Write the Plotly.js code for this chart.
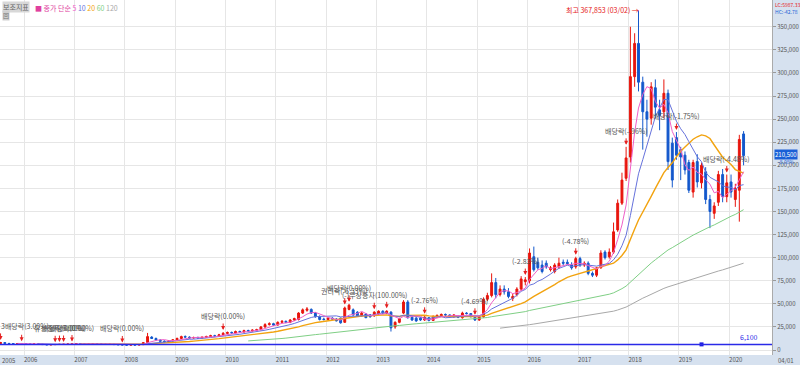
<!DOCTYPE html>
<html><head><meta charset="utf-8">
<script src="https://cdn.plot.ly/plotly-3.0.1.min.js"></script>
<style>body{margin:0;background:#fff}#c{width:800px;height:365px}</style>
</head><body><div id="c"></div>
<script>
// first candle month
const startYear = 2005, startMonth = 7;
const opens = [
 7000,8000,7200,6900,6600,7000,
 6800,6500,6300,6600,6300,5900,5600,5800,6000,6200,6300,6500,
 6800,7000,6600,6200,6500,6900,6600,6300,6000,6200,5900,5700,
 5500,5300,5600,5400,5800,8000,14000,12500,10800,9500,8800,9800,
 11000,12500,14500,14000,13000,13500,13000,13800,14500,15500,15000,16500,
 18000,19000,18500,20000,19500,21000,20500,21500,22000,25000,27500,28500,
 27000,30000,31000,30000,32500,33000,40000,43000,44000,40000,36000,33500,
 33000,34500,33500,34500,30000,44000,43500,41000,37000,39000,38000,37000,
 39000,42000,40000,41000,25000,30000,40000,52000,35500,34500,34500,32500,
 35000,32000,36000,37000,38500,38000,36000,36500,35000,40000,39500,35500,
 32500,36000,55000,59000,73000,60000,66000,63000,56000,60000,66000,74000,
 75000,101000,95000,92000,94000,87000,85000,90000,95000,95000,92000,90000,
 99000,92000,94000,83000,81000,89000,106000,101000,106000,130000,159000,186000,
 209000,296000,332000,290000,258000,251000,284000,260000,258000,278000,224000,230000,
 217000,211000,203000,171000,204000,181000,193000,163000,148000,160000,190000,166000,
 182000,163000,173000,234000];
const highs = [
 8800,8400,7600,7200,7400,7300,
 7000,6800,6900,6800,6500,6100,6000,6200,6400,6500,6800,7000,
 7400,7200,6900,6800,7100,7200,6900,6600,6500,6400,6200,6000,
 5800,5900,5800,6200,8500,18500,15000,13500,11500,10500,10200,11500,
 13500,15500,15800,14800,14500,14500,14500,15500,16500,16500,17500,19500,
 20000,20000,21000,21000,22000,22000,22500,23000,26000,29000,30000,29500,
 31000,32500,32000,33500,35000,41000,45000,46500,45000,41000,37500,35000,
 35500,35500,34500,35000,47000,50000,45000,42000,41000,40000,39000,42000,
 43000,43000,43000,42000,31000,35000,54000,54000,37000,36000,35500,37000,
 35500,37500,38500,39500,39500,38500,39000,37500,41500,41000,40000,36000,
 37500,57000,62000,83000,78000,70000,70000,67000,61000,68000,80000,79000,
 110000,112000,100000,97000,97000,91000,94000,100000,98000,98000,95000,101000,
 101000,96000,96000,85000,90000,108000,108000,110000,138000,163000,192000,220000,
 350000,343000,367853,296000,271000,290000,293000,271000,293000,282000,230000,236000,
 220000,215000,206000,206000,212000,203000,198000,168000,160000,194000,196000,190000,
 190000,180000,233000,237000];
const lows = [
 6600,7000,6700,6200,6300,6600,
 6300,6100,6000,6100,5700,5400,5300,5500,5800,5900,6100,6300,
 6500,6400,6000,6000,6300,6400,6100,5800,5700,5700,5500,5300,
 5000,5100,5200,5200,5600,7800,12000,10500,9200,8200,8200,9200,
 10500,12000,13500,12500,12500,12500,12500,13200,14000,14300,14500,16000,
 17000,17800,18000,18800,19000,19800,20000,21000,21500,24000,26500,26000,
 26500,29000,29000,29000,31500,32000,39000,41500,39000,35000,32000,32000,
 32000,33000,31000,28500,29500,43000,37000,36000,36000,34500,35000,36000,
 38000,39000,39000,20000,23000,29000,39000,34000,31500,30500,31500,31500,
 31000,31500,35000,36000,37000,35000,35000,34500,34000,38500,35500,31500,
 31500,35000,53000,57000,56000,58000,60000,56000,53000,58000,64000,70000,
 72000,85000,87000,83000,88000,85000,83000,88000,92000,92000,87000,88000,
 90000,90000,81000,79000,79000,88000,98000,99000,104000,128000,157000,183000,
 203000,285000,280000,217000,231000,244000,251000,238000,251000,195000,176000,206000,
 184000,190000,170000,165000,176000,175000,158000,132000,142000,156000,160000,160000,
 165000,155000,139000,200000];
const closes = [
 8000,7200,6900,6600,7000,6800,
 6500,6300,6600,6300,5900,5600,5800,6000,6200,6300,6500,6800,
 7000,6600,6200,6500,6900,6600,6300,6000,6200,5900,5700,5500,
 5300,5600,5400,5800,8000,14500,12500,10800,9500,8800,9800,11000,
 12500,14500,14000,13000,13500,13000,13800,14500,15500,15000,16500,18000,
 19000,18500,20000,19500,21000,20500,21500,22000,25000,27500,28500,27000,
 30000,31000,30000,32500,34000,40000,43500,44500,40000,36000,33000,33000,
 34500,33500,31500,29500,45500,48500,38000,37000,40000,35000,36000,41000,
 42000,40000,42000,24000,30000,34000,52000,35000,32500,31500,32500,35500,
 32000,36000,37500,38500,38000,36000,38000,35500,40000,39500,36000,32500,
 36000,55000,59000,73000,60000,66000,63000,58000,58000,66000,77000,76000,
 105000,87000,89000,85000,90000,89000,92000,94000,94000,93500,89000,99000,
 92000,94000,83000,81000,89000,105000,100000,106000,128000,159000,184000,208000,
 296000,332000,290000,258000,250000,285000,263000,254000,278000,204000,184000,211000,
 209000,195000,173000,203000,182000,200000,163000,150000,156000,190000,166000,181000,
 171000,175000,228000,210500];

const maPeriods = [5, 10, 20, 60, 120];
const maColors = ['#f060c8', '#6672dc', '#f2a30f', '#7fcf85', '#a8a8a8'];
const maWidths = [1, 1, 1.4, 1, 1];
const levelLine = 6100;
const levelMarkMonth = '2019-06-15';
const yTicks = [0,25000,50000,75000,100000,125000,150000,175000,200000,225000,250000,275000,300000,325000,350000];
const yearTicks = ['2006','2007','2008','2009','2010','2011','2012','2013','2014','2015','2016','2017','2018','2019','2020'];
const events = [
 ['2005-07','3배당락(3.00%)'],['2005-12',''],['2006-08',''],['2006-09','유상증자(0.00%)'],['2006-10','배당락(0.00%)'],['2006-12','배당락(0.00%)'],
 ['2007-12','배당락(0.00%)'],['2009-12','배당락(0.00%)'],
 ['2012-05','권리락(-6.33%)'],['2012-06','배당락(0.00%)'],['2012-12','(-)무상증자(100.00%)'],['2013-03',''],
 ['2013-12','(-2.76%)'],['2014-12','(-4.69%)'],['2015-12','(-2.83%)'],['2016-12','(-4.78%)'],
 ['2017-12','배당락(-.96%)'],['2018-12','배당락(-1.75%)'],['2019-12','배당락(-4.48%)']];
const peakText = '최고 367,853 (03/02) →';
const lastPrice = 210500, lastChange = '-8.08%';

const dates = opens.map((_, i) => {
  const t = startMonth - 1 + i;
  const y = startYear + Math.floor(t / 12);
  const m = (t % 12) + 1;
  return y + '-' + String(m).padStart(2, '0') + '-15';
});
function sma(p) {
  return closes.map((_, i) => {
    if (i < p - 1) return null;
    let s = 0; for (let k = i - p + 1; k <= i; k++) s += closes[k];
    return s / p;
  });
}
const traces = [];
traces.push({type:'candlestick', x:dates, open:opens, high:highs, low:lows, close:closes,
  increasing:{line:{color:'#e8150d', width:1}, fillcolor:'#e8150d'},
  decreasing:{line:{color:'#1358cc', width:1}, fillcolor:'#1358cc'},
  whiskerwidth:0, hoverinfo:'skip'});
for (let j = maPeriods.length - 1; j >= 0; j--) {
  traces.push({type:'scatter', mode:'lines', x:dates, y:sma(maPeriods[j]),
    line:{color:maColors[j], width:maWidths[j]}, hoverinfo:'skip'});
}
traces.push({type:'scatter', mode:'markers', x:[levelMarkMonth], y:[levelLine],
  marker:{symbol:'square', size:4, color:'#1a1ae0'}, hoverinfo:'skip'});

const ann = [];
const idxOf = d => dates.indexOf(d + '-15');
events.forEach(([d, t], k) => {
  const i = idxOf(d);
  ann.push({x:dates[i], y:highs[i], yshift:2, showarrow:true, ax:0, ay:-8, arrowhead:2, arrowsize:0.8, arrowwidth:1, arrowcolor:'#e52020', text:''});
  if (t) {
    const a = {x:dates[i], y:highs[i], yshift:16, showarrow:false, text:t, font:{size:7, color:'#555'}};
    if (k === 0) { a.xanchor = 'left'; a.xshift = -2; }
    ann.push(a);
  }
});
const pi = highs.indexOf(Math.max(...highs));
ann.push({x:dates[pi], y:highs[pi], xanchor:'right', xshift:2, showarrow:false, text:peakText, font:{size:7, color:'#e52020'}});
ann.push({xref:'paper', x:1, y:lastPrice, xanchor:'left', xshift:2, yshift:1, showarrow:false, text:lastPrice.toLocaleString('en-US'), bgcolor:'#1a5fd6', font:{size:6, color:'#fff'}, borderpad:0});
ann.push({xref:'paper', x:1, y:lastPrice, xanchor:'left', xshift:4, yshift:-6, showarrow:false, text:lastChange, font:{size:5, color:'#1a5fd6'}});
ann.push({xref:'paper', x:0.985, y:levelLine, xanchor:'right', yanchor:'bottom', showarrow:false, text:levelLine.toLocaleString('en-US'), font:{size:7, color:'#2a2ae8'}});
ann.push({xref:'paper', yref:'paper', x:0, y:-0.015, xanchor:'left', yanchor:'middle', showarrow:false, text:'2005', font:{size:6, color:'#555'}});
ann.push({xref:'paper', yref:'paper', x:1.005, y:-0.015, xanchor:'left', yanchor:'middle', showarrow:false, text:'04/01', font:{size:6, color:'#555'}});
ann.push({xref:'paper', yref:'paper', x:1.001, y:1.002, xanchor:'left', yanchor:'top', showarrow:false, text:'LC:5987.33', font:{size:5, color:'#e52020'}});
ann.push({xref:'paper', yref:'paper', x:1.001, y:0.984, xanchor:'left', yanchor:'top', showarrow:false, text:'HC:-42.78', font:{size:5, color:'#1a5fd6'}});
ann.push({xref:'paper', yref:'paper', x:0.003, y:0.998, xanchor:'left', yanchor:'top', showarrow:false, text:'보조지표', bgcolor:'#d8d8d8', font:{size:7, color:'#666'}, borderpad:0});
const legendText = '<span style="color:#e040a0">■ 종가 단순</span> <span style="color:'+maColors[0]+'">5</span> <span style="color:'+maColors[1]+'">10</span> <span style="color:'+maColors[2]+'">20</span> <span style="color:'+maColors[3]+'">60</span> <span style="color:'+maColors[4]+'">120</span>';
ann.push({xref:'paper', yref:'paper', x:0.043, y:0.998, xanchor:'left', yanchor:'top', showarrow:false, text:legendText, font:{size:7}});
ann.push({xref:'paper', yref:'paper', x:0.003, y:0.972, xanchor:'left', yanchor:'top', showarrow:false, text:'回', bgcolor:'#cfcfcf', font:{size:6, color:'#777'}, borderpad:0});

const layout = {
  width:800, height:365,
  margin:{l:0, r:28, t:0, b:10, pad:0},
  paper_bgcolor:'#ffffff', plot_bgcolor:'#ffffff', showlegend:false,
  font:{family:'"Noto Sans CJK KR", "Noto Sans", sans-serif', size:7, color:'#555'},
  xaxis:{type:'date', range:['2005-07-11','2020-11-07'], tickvals:yearTicks.map(y => y + '-01-01'), ticktext:yearTicks,
    ticklabelposition:'outside right', ticks:'', showgrid:true, gridcolor:'#e6e6e6', gridwidth:1,
    tickfont:{size:6, color:'#555'}, rangeslider:{visible:false}, zeroline:false, showline:false, fixedrange:true},
  yaxis:{side:'right', range:[-5400, 379000], tickvals:yTicks, tickformat:',d', ticks:'outside', ticklen:3,
    tickcolor:'#999', showgrid:true, gridcolor:'#e6e6e6', zeroline:false, showline:true, linecolor:'#aaa',
    tickfont:{size:6, color:'#555'}, fixedrange:true},
  shapes:[
    {type:'rect', xref:'paper', yref:'paper', x0:1, x1:1.05, y0:-0.03, y1:1, fillcolor:'#d6e1ef', line:{width:0}, layer:'below'},
    {type:'rect', xref:'paper', yref:'paper', x0:0, x1:1, y0:-0.03, y1:0, fillcolor:'#d6e1ef', line:{width:0}, layer:'below'},
    {type:'line', xref:'paper', yref:'y', x0:0, x1:1, y0:levelLine, y1:levelLine, line:{color:'#2a2ae8', width:1.5}}
  ],
  annotations:ann
};
Plotly.newPlot('c', traces, layout, {staticPlot:true, displayModeBar:false});
</script></body></html>
